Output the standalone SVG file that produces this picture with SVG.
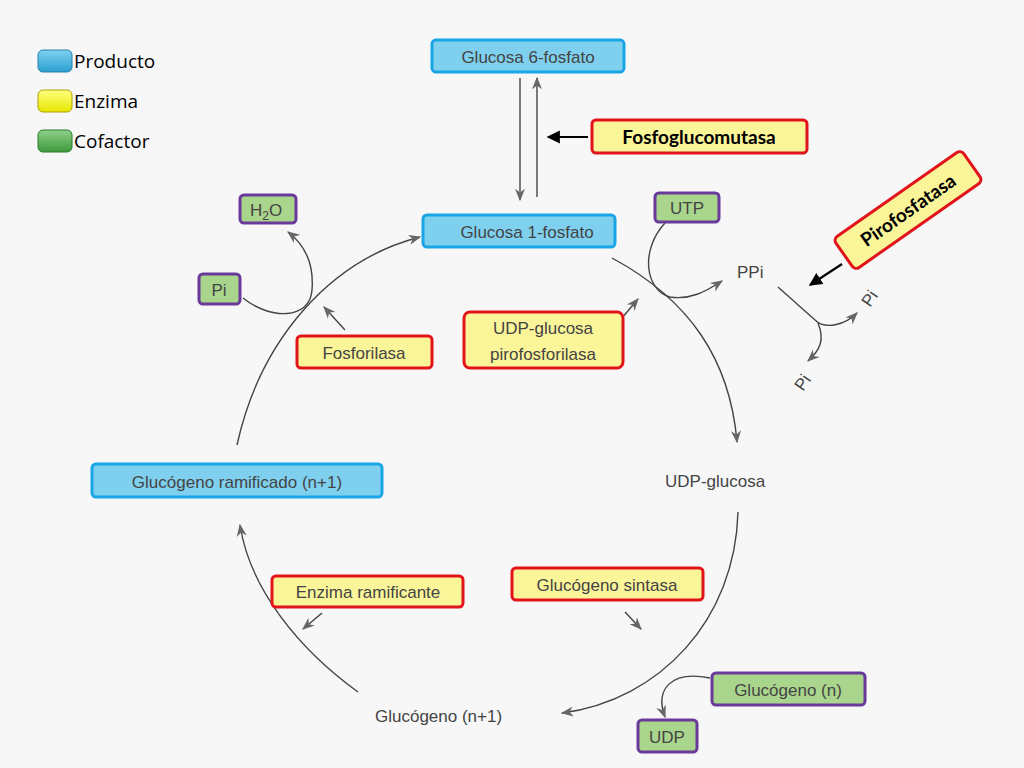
<svg xmlns="http://www.w3.org/2000/svg" width="1024" height="768" viewBox="0 0 1024 768">
<style>
.t{font-family:"Liberation Sans",Arial,sans-serif;font-size:17px;fill:#444}
.lg{font-family:"Open Sans","Liberation Sans",sans-serif;font-size:19px;fill:#000}
.p{fill:#7fd0ee;stroke:#1aa6e6;stroke-width:3}
.e{fill:#fbf59a;stroke:#e0141a;stroke-width:3}
.c{fill:#a9d58d;stroke:#6a3a9a;stroke-width:3}
.ln{fill:none;stroke:#444;stroke-width:1.4}
.bk{fill:none;stroke:#000;stroke-width:2.2}
.bt{font-family:"Lato","Open Sans",sans-serif;font-weight:bold;font-size:19px;fill:#000}
</style>
<defs>
<marker id="a" viewBox="0 0 10 10" refX="9" refY="5" markerWidth="9" markerHeight="9" orient="auto"><path d="M0,1 L10,5 L0,9 L3,5 z" fill="#666"/></marker>
<marker id="b" viewBox="0 0 10 10" refX="9" refY="5" markerWidth="6" markerHeight="6" orient="auto"><path d="M0,0 L10,5 L0,10 z" fill="#000"/></marker>
<linearGradient id="gb" x1="0" y1="0" x2="0" y2="1"><stop offset="0" stop-color="#7ed3f0"/><stop offset="1" stop-color="#2a9ed0"/></linearGradient>
<linearGradient id="gy" x1="0" y1="0" x2="0" y2="1"><stop offset="0" stop-color="#ffff80"/><stop offset="1" stop-color="#e6e600"/></linearGradient>
<linearGradient id="gg" x1="0" y1="0" x2="0" y2="1"><stop offset="0" stop-color="#8fd08a"/><stop offset="1" stop-color="#3d9a3d"/></linearGradient>
</defs>
<rect width="1024" height="768" fill="#f7f7f7"/>
<g id="legend">
<rect x="38" y="50" width="34" height="22" rx="5" fill="url(#gb)" stroke="#2a7fa8"/>
<text class="lg" x="74" y="68">Producto</text>
<rect x="38" y="90" width="34" height="22" rx="5" fill="url(#gy)" stroke="#b0a000"/>
<text class="lg" x="74" y="108">Enzima</text>
<rect x="38" y="130" width="34" height="22" rx="5" fill="url(#gg)" stroke="#2a7a2a"/>
<text class="lg" x="74" y="148">Cofactor</text>
</g>
<g id="connectors">
<line class="ln" x1="520" y1="78" x2="520" y2="200" marker-end="url(#a)"/>
<line class="ln" x1="537" y1="197" x2="537" y2="78" marker-end="url(#a)"/>
<line class="bk" x1="588" y1="137" x2="548" y2="137" marker-end="url(#b)"/>
<line class="bk" x1="842" y1="264" x2="810" y2="285" marker-end="url(#b)"/>
<path class="ln" d="M237,445 C260,340 330,260 420,237" marker-end="url(#a)"/>
<path class="ln" d="M612,258 C690,300 730,360 737,442" marker-end="url(#a)"/>
<path class="ln" d="M738,512 C735,620 660,700 562,713" marker-end="url(#a)"/>
<path class="ln" d="M358,692 C300,650 250,590 240,525" marker-end="url(#a)"/>
<path class="ln" d="M243,298 C270,320 310,320 312,290 C314,265 305,245 288,232" marker-end="url(#a)"/>
<path class="ln" d="M665,223 C640,250 645,290 670,297 C690,300 705,292 722,281" marker-end="url(#a)"/>
<path class="ln" d="M778,287 L815,320"/>
<path class="ln" d="M815,320 C825,330 845,325 857,313" marker-end="url(#a)"/>
<path class="ln" d="M818,323 C825,340 820,350 808,361" marker-end="url(#a)"/>
<path class="ln" d="M710,678 C670,670 655,690 665,717" marker-end="url(#a)"/>
<line class="ln" x1="345" y1="330" x2="324" y2="307" marker-end="url(#a)"/>
<line class="ln" x1="616" y1="325" x2="638" y2="299" marker-end="url(#a)"/>
<line class="ln" x1="322" y1="613" x2="303" y2="629" marker-end="url(#a)"/>
<line class="ln" x1="625" y1="612" x2="641" y2="629" marker-end="url(#a)"/>
</g>
<g id="g6p"><rect class="p" x="432" y="40" width="192" height="32" rx="4"/><text class="t" x="528" y="63" text-anchor="middle">Glucosa 6-fosfato</text></g>
<g id="fgm"><rect class="e" x="592" y="120" width="215" height="33" rx="4"/><text class="bt" x="699" y="144" text-anchor="middle">Fosfoglucomutasa</text></g>
<g id="g1p"><rect class="p" x="423" y="215" width="192" height="32" rx="4"/><text class="t" x="527" y="238" text-anchor="middle">Glucosa 1-fosfato</text></g>
<g id="h2o"><rect class="c" x="240" y="195" width="56" height="28" rx="4"/><text class="t" x="250" y="216">H<tspan font-size="12" dy="4">2</tspan><tspan dy="-4">O</tspan></text></g>
<g id="pi"><rect class="c" x="199" y="274" width="41" height="30" rx="4"/><text class="t" x="219" y="296" text-anchor="middle">Pi</text></g>
<g id="utp"><rect class="c" x="655" y="193" width="64" height="29" rx="4"/><text class="t" x="687" y="214" text-anchor="middle">UTP</text></g>
<g id="fosforilasa"><rect class="e" x="297" y="336" width="135" height="32" rx="4"/><text class="t" x="364" y="359" text-anchor="middle">Fosforilasa</text></g>
<g id="udpgp"><rect class="e" x="464" y="312" width="159" height="56" rx="6"/><text class="t" x="543" y="334" text-anchor="middle">UDP-glucosa</text><text class="t" x="543" y="360" text-anchor="middle">pirofosforilasa</text></g>
<g id="ppi"><text class="t" x="737" y="278">PPi</text></g>
<g id="pirofosfatasa" transform="translate(908,210) rotate(-35)"><rect class="e" x="-78" y="-19" width="156" height="38" rx="5"/><text class="bt" x="0" y="7" text-anchor="middle">Pirofosfatasa</text></g>
<g id="pi2"><text class="t" transform="translate(870,308) rotate(-55)">Pi</text></g>
<g id="pi3"><text class="t" transform="translate(803,392) rotate(-55)">Pi</text></g>
<g id="udpglc"><text class="t" x="665" y="487">UDP-glucosa</text></g>
<g id="gram"><rect class="p" x="92" y="464" width="290" height="33" rx="4"/><text class="t" x="237" y="488" text-anchor="middle">Glucógeno ramificado (n+1)</text></g>
<g id="enzram"><rect class="e" x="272" y="576" width="191" height="31" rx="4"/><text class="t" x="368" y="598" text-anchor="middle">Enzima ramificante</text></g>
<g id="gsint"><rect class="e" x="512" y="568" width="191" height="32" rx="4"/><text class="t" x="607" y="591" text-anchor="middle">Glucógeno sintasa</text></g>
<g id="gn"><rect class="c" x="712" y="673" width="153" height="32" rx="4"/><text class="t" x="788" y="696" text-anchor="middle">Glucógeno (n)</text></g>
<g id="udp"><rect class="c" x="638" y="720" width="59" height="32" rx="4"/><text class="t" x="667" y="743" text-anchor="middle">UDP</text></g>
<g id="gn1"><text class="t" x="375" y="722">Glucógeno (n+1)</text></g>
</svg>
